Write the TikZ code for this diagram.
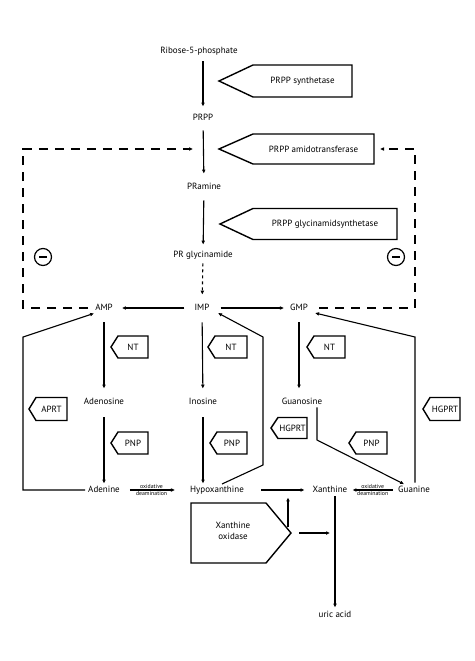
\documentclass[tikz,border=0pt]{standalone}
\usepackage{fontspec}
\setmainfont{PT Sans}
\usetikzlibrary{arrows.meta,calc}

\tikzset{
  met/.style={inner sep=1pt,text height=6.3pt,text depth=2pt,font=\fontsize{9}{10}\selectfont},
  flow/.style={-{Latex[length=4pt,width=3.8pt]},line width=1.1pt,shorten <=8pt,shorten >=8pt},
  fb/.style={flow,dash pattern=on 9pt off 7pt},
  enz/.style={line width=1.4pt,line join=miter},
  enzlabel/.style={font=\fontsize{9}{10.5}\selectfont,inner sep=0pt},
  deam/.style={font=\fontsize{5.8}{6}\selectfont,inner sep=0.8pt},
  inh/.style={circle,draw,line width=1.2pt,minimum size=17pt,inner sep=0pt},
}

% enzyme tag: name, tip, notch, width, half height, label
\newcommand{\enzyme}[6]{%
  \draw[enz] #2 -- ++(#3,-#5) -- ++(#4,0) -- ++(0,2*#5) -- ++(-#4,0) -- cycle;
  \coordinate (#1-e) at ($#2+(#3+#4,0)$);
  \node[enzlabel] (#1) at ($#2+(#3+0.5*#4,0)$) {#6};
}

\begin{document}
\begin{tikzpicture}[x=1pt,y=-1pt]
\useasboundingbox (0,0) rectangle (474,661);

% Metabolites
\node[met] (rib) at (199,51) {Ribose-5-phosphate};
\node[met] (prpp) at (203,118) {PRPP};
\node[met] (pra) at (204,187) {PRamine};
\node[met] (prg) at (203,255) {PR glycinamide};
\node[met] (imp) at (202,308) {IMP};
\node[met] (amp) at (104,308) {AMP};
\node[met] (gmp) at (299,308) {GMP};
\node[met] (ados) at (104,402) {Adenosine};
\node[met] (ino) at (203,402) {Inosine};
\node[met] (guos) at (302,402) {Guanosine};
\node[met] (ade) at (104,490) {Adenine};
\node[met] (hyp) at (217,490) {Hypoxanthine};
\node[met] (xan) at (330,490) {Xanthine};
\node[met] (gua) at (414,490) {Guanine};
\node[met] (uric) at (335,615) {uric acid};

% De novo pathway
\draw[flow,shorten <=5pt,shorten >=6pt] (rib.south -| prpp) -- (prpp);
\draw[flow,shorten <=7pt] (prpp) -- (pra);
\draw[flow,shorten >=5pt] (pra) -- (prg);
\draw[flow,shorten <=3pt,dash pattern=on 3pt off 3pt] (prg) -- (imp);

% Enzymes of the de novo pathway
\enzyme{syn}{(219,81)}{34}{99}{16}{PRPP synthetase}
\enzyme{amido}{(219,149)}{34}{121}{15}{PRPP amidotransferase}
\enzyme{gly}{(220,224)}{33}{144}{15.5}{PRPP glycinamidsynthetase}

% IMP to AMP and GMP
\draw[flow,shorten <=9pt] (imp) -- (amp);
\draw[flow,shorten <=10pt,shorten >=5pt] (imp) -- (gmp);

% Feedback inhibition
\coordinate (fbL) at (23,149);
\coordinate (fbR) at (415,149);
\draw[fb,shorten <=6pt,shorten >=10pt] (amp.west) -| (fbL) -- (fbL -| prpp);
\draw[fb,shorten <=10pt,shorten >=6pt] (gmp.east) -| (fbR) -- (amido-e);
\node[inh] (minL) at (43,257) {\rule{8pt}{1.4pt}};
\node[inh] (minR) at (396,257) {\rule{8pt}{1.4pt}};

% Degradation
\draw[flow,shorten <=9pt] (amp) -- (ados);
\draw[flow,shorten <=9pt] (imp) -- (ino);
\draw[flow,shorten <=9pt] (gmp) -- (gmp |- guos.north);
\draw[flow,shorten <=10pt,shorten >=1pt] (ados) -- (ade);
\draw[flow,shorten <=10pt,shorten >=1pt] (ino) -- (ino |- hyp.north);
\coordinate (guosB) at (317,440);
\draw[flow,shorten <=0pt,shorten >=1pt] (guosB |- guos.south) -- (guosB) -- ($(gua.north)+(-9,0)$);

\enzyme{nta}{(111,347)}{7}{30}{11}{NT}
\enzyme{nti}{(208,347)}{7}{32}{11}{NT}
\enzyme{ntg}{(307,347)}{7}{31}{11}{NT}
\enzyme{pnpa}{(111,443)}{7}{30}{11}{PNP}
\enzyme{pnpi}{(210,443)}{7}{30}{11}{PNP}
\enzyme{pnpg}{(349,443)}{7}{31}{11}{PNP}

% Oxidative deamination and xanthine
\draw[flow,shorten <=9pt,shorten >=14pt] (ade) -- (hyp)
  node[deam,pos=0.45,above] {oxidative} node[deam,pos=0.45,below] {deamination};
\draw[flow,shorten <=4pt,shorten >=4pt] (gua) -- (xan)
  node[deam,midway,above] {oxidative} node[deam,midway,below] {deamination};
\draw[flow,shorten <=16pt,shorten >=7pt] (hyp) -- (xan);
\draw[flow,shorten <=1pt,shorten >=2pt] (uric |- xan.south) -- (uric);

% Salvage pathway
\coordinate (aprtC) at (23,337);
\draw[flow,shorten <=2pt,shorten >=0pt] (ade.west) -| (aprtC) -- (amp.south west);
\coordinate (hypT) at (222,484);
\coordinate (hgB) at (263,465);
\coordinate (hgC) at (263,337);
\coordinate (impR) at (218,313);
\draw[flow,shorten <=0pt,shorten >=0pt] (hypT) -- (hgB) -- (hgC) -- (impR);
\coordinate (gmC) at (415,337);
\coordinate (gmpR) at (315,313);
\draw[flow,shorten <=2pt,shorten >=0pt] (gua.north -| gmC) -- (gmC) -- (gmpR);

\enzyme{aprt}{(29,409)}{7}{31}{11.5}{APRT}
\enzyme{hgprt}{(423,409)}{7}{30}{11.5}{HGPRT}
\enzyme{hgprtm}{(271,428)}{7}{29}{10.5}{HGPRT}

% Xanthine oxidase
\draw[enz] (191,503) -- (266,503) -- (291,533) -- (266,563) -- (191,563) -- cycle;
\node[enzlabel,align=center] (xo) at (233,531) {Xanthine\\oxidase};
\coordinate (xoUp) at (288,527);
\coordinate (xoR) at (299,533);
\draw[flow,shorten <=0pt,shorten >=2pt] (xoUp) -- (xoUp |- xan.south);
\draw[flow,shorten <=0pt,shorten >=5pt] (xoR) -- (xoR -| uric);
\end{tikzpicture}
\end{document}
